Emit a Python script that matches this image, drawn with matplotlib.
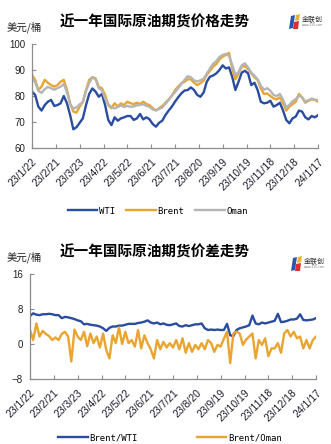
import matplotlib
matplotlib.use("Agg")
import matplotlib.pyplot as plt
import matplotlib.patches as mpatches
import numpy as np
import pandas as pd

plt.rcParams['font.family'] = ['Noto Sans CJK SC', 'DejaVu Sans']

# ---------------- data ----------------
dates = pd.date_range('2023-01-22', periods=91, freq='4D')
tick_dates = pd.date_range('2023-01-22', periods=13, freq='30D')
tick_labels = ['23/1/22', '23/2/21', '23/3/23', '23/4/22', '23/5/22', '23/6/21',
               '23/7/21', '23/8/20', '23/9/19', '23/10/19', '23/11/18', '23/12/18', '24/1/17']

wti = [81.7, 80.4, 75.9, 74.4, 76.5, 77.8, 78.5, 76.2, 76.5, 77.2,
       80.0, 77.2, 72.7, 67.2, 68.0, 69.7, 71.4, 76.5, 80.8, 82.9,
       81.7, 79.7, 80.8, 76.5, 70.8, 68.8, 71.8, 70.5, 71.4, 71.8,
       72.3, 72.3, 70.8, 71.4, 73.1, 71.0, 71.8, 71.0, 69.2, 68.2,
       69.7, 70.5, 72.7, 74.4, 75.9, 77.8, 79.5, 81.0, 82.1, 82.3,
       83.3, 82.3, 80.4, 79.7, 81.3, 85.5, 87.4, 87.9, 88.7, 90.0,
       91.8, 90.6, 91.0, 87.4, 82.3, 85.5, 89.0, 89.7, 88.7, 84.2,
       85.1, 82.3, 77.8, 77.2, 77.4, 78.2, 75.9, 76.5, 77.4, 74.4,
       70.8, 69.5, 71.4, 72.1, 74.4, 74.0, 71.8, 71.0, 72.3, 71.8,
       72.6]

brent = [88.1, 86.2, 82.3, 83.6, 86.2, 85.1, 84.2, 83.6, 84.2, 85.5,
         86.2, 82.3, 77.2, 74.0, 73.6, 75.9, 77.8, 82.3, 86.2, 87.2,
         86.8, 83.6, 82.9, 80.4, 76.5, 75.3, 77.2, 75.9, 77.2, 76.5,
         77.8, 77.2, 76.9, 77.4, 76.9, 77.8, 76.9, 76.5, 75.3, 74.4,
         75.3, 76.2, 77.4, 78.7, 80.0, 82.3, 83.6, 84.9, 85.5, 86.4,
         86.4, 85.1, 84.2, 84.9, 85.9, 88.1, 89.7, 91.3, 92.3, 94.1,
         95.1, 95.8, 96.6, 90.6, 86.4, 88.7, 91.3, 91.5, 90.3, 88.7,
         87.2, 86.2, 82.9, 80.8, 81.0, 80.0, 79.1, 78.7, 79.5, 77.2,
         74.4, 75.9, 76.9, 77.8, 80.8, 79.5, 77.4, 78.2, 78.7, 78.5,
         77.8]

oman = [87.0, 85.2, 82.0, 81.2, 82.6, 83.5, 83.0, 82.4, 83.0, 83.6,
        84.6, 81.5, 76.8, 75.2, 75.6, 76.8, 77.6, 82.0, 85.0, 87.2,
        86.4, 83.0, 82.2, 79.0, 76.8, 75.8, 75.2, 75.8, 76.4, 75.8,
        76.2, 75.8, 76.0, 76.4, 76.6, 76.8, 76.2, 75.8, 74.8, 74.6,
        75.0, 75.6, 77.0, 78.4, 80.2, 81.4, 83.0, 84.6, 86.2, 87.6,
        87.2, 86.0, 85.6, 86.0, 86.6, 88.6, 90.6, 92.4, 93.4, 95.0,
        95.8, 96.2, 95.4, 92.0, 88.2, 89.2, 91.8, 92.6, 91.0, 89.0,
        87.8, 86.4, 84.0, 82.4, 83.0, 82.0, 80.4, 80.0, 80.8, 78.6,
        75.6, 76.6, 78.0, 78.8, 80.2, 79.4, 77.8, 78.4, 79.0, 78.6,
        78.4]

brent_wti = [6.4, 7.0, 6.7, 6.6, 6.8, 6.8, 6.9, 6.8, 6.6, 6.6,
             5.9, 6.2, 6.1, 5.9, 5.7, 5.4, 5.2, 4.5, 4.6, 4.4,
             4.3, 4.2, 4.0, 3.6, 3.0, 3.7, 4.0, 4.0, 4.2, 4.2,
             4.4, 4.6, 4.6, 4.6, 4.8, 4.9, 5.1, 5.4, 4.9, 4.7,
             4.9, 4.5, 4.7, 4.4, 4.3, 4.5, 4.7, 4.1, 4.0, 4.3,
             4.1, 4.3, 4.5, 4.5, 4.7, 3.6, 3.2, 3.3, 3.2, 3.3,
             3.2, 3.2, 4.6, 2.0, 1.8, 3.2, 3.6, 3.8, 4.0, 4.3,
             6.5, 4.7, 4.5, 4.9, 4.7, 4.9, 5.1, 5.3, 6.9, 5.0,
             5.1, 5.3, 5.6, 5.6, 5.8, 6.8, 5.5, 5.4, 5.5, 5.6,
             5.9]

brent_oman = [3.2, 0.9, 4.7, 1.7, 3.0, 2.3, 1.8, 0.9, 1.5, 0.9,
              2.3, 2.8, 1.7, -4.0, 3.3, 1.7, 0.9, 2.8, -0.5, 2.4,
              0.2, 1.7, -0.8, 2.4, -1.4, -3.3, 2.0, 0.2, 3.8, 0.0,
              2.8, 0.2, 0.9, -0.6, 3.2, -1.0, 2.0, 0.2, -1.2, -3.3,
              0.9, -1.2, 0.5, -0.8, 0.2, -0.8, 0.9, -1.2, 1.3, -2.0,
              0.2, -1.8, -0.2, -1.2, 0.2, -1.2, 0.9, 0.2, -1.8, -0.2,
              -0.6, 1.2, 2.8, -4.4, 2.4, 2.8, 2.4, -0.2, 1.0, 1.7,
              2.4, -3.3, 0.9, -0.2, 1.3, -2.8, -1.0, -1.0, 0.2, -2.0,
              2.4, 3.2, 1.7, 2.8, 1.3, 1.7, -1.0, 0.9, -1.0, 0.9,
              1.7]

c_blue = '#2a4d9f'
c_orange = '#e9a530'
c_gray = '#b5b5b5'
c_spine = '#8c8c8c'

W, H = 331, 444
fig = plt.figure(figsize=(W / 100, H / 100), dpi=100)
fig.patch.set_facecolor('white')


def px_ax(l, r, t, b):
    return fig.add_axes([l / W, 1 - b / H, (r - l) / W, (b - t) / H])


def style_axes(ax, yticks, ylim):
    for s in ['top', 'right']:
        ax.spines[s].set_visible(False)
    for s in ['left', 'bottom']:
        ax.spines[s].set_color(c_spine)
        ax.spines[s].set_linewidth(0.9)
    ax.set_xlim(dates[0], dates[-1])
    ax.set_ylim(*ylim)
    ax.set_yticks(yticks)
    ax.set_yticklabels([str(v) for v in yticks], fontsize=7, family='Liberation Sans', color='#222222')
    ax.set_xticks(tick_dates)
    ax.set_xticklabels(tick_labels, rotation=45, ha='right', va='top', rotation_mode='anchor',
                       fontsize=7.5, family='Liberation Sans', color='#1c1c2c')
    ax.tick_params(axis='both', direction='in', length=3, width=0.8, color=c_spine)
    ax.tick_params(axis='x', pad=6)
    ax.tick_params(axis='y', pad=5)


def logo(x, y):
    # x, y : top-left pixel of logo
    def P(pts, color):
        fig.patches.append(mpatches.Polygon([((x + a) / W, 1 - (y + b) / H) for a, b in pts],
                                            closed=True, transform=fig.transFigure,
                                            facecolor=color, edgecolor='none'))
    P([(2, 3), (6, 2), (4, 15), (0, 16)], '#2b56b0')
    P([(5, 9), (10, 8), (9, 16), (4, 16)], '#d83030')
    P([(7, 2), (11, 1), (10, 7), (6, 8)], '#f0b030')
    fig.text((x + 13) / W, 1 - (y + 7) / H, '金联创', fontsize=5, color='#333333',
             ha='left', va='center')
    fig.text((x + 13) / W, 1 - (y + 12.5) / H, 'www.315.com', fontsize=2.2, color='#777777',
             ha='left', va='center', family='DejaVu Sans')


# ---------------- top chart ----------------
ax1 = px_ax(32, 318, 44, 148)
ax1.plot(dates, wti, color=c_blue, lw=1.7, label='WTI', solid_joinstyle='round')
ax1.plot(dates, brent, color=c_orange, lw=1.7, label='Brent', solid_joinstyle='round')
ax1.plot(dates, oman, color=c_gray, lw=1.7, label='Oman', solid_joinstyle='round')
style_axes(ax1, [60, 70, 80, 90, 100], (60, 100))

fig.text(155 / W, 1 - 22 / H, '近一年国际原油期货价格走势', fontsize=10.5, fontweight='bold',
         ha='center', va='center', color='black')
fig.text(7 / W, 1 - 27 / H, '美元/桶', fontsize=7.5, ha='left', va='center', color='#222222')
logo(289, 13)

leg1 = fig.legend(handles=ax1.lines, labels=['WTI', 'Brent', 'Oman'], loc='center',
                  bbox_to_anchor=(158 / W, 1 - 211 / H), ncol=3, frameon=False,
                  prop={'family': 'DejaVu Sans Mono', 'size': 6.5},
                  handlelength=3.3, handletextpad=0.2, columnspacing=1.2)

# ---------------- bottom chart ----------------
ax2 = px_ax(30, 316, 274, 379)
ax2.plot(dates, brent_wti, color=c_blue, lw=1.7, label='Brent/WTI', solid_joinstyle='round')
ax2.plot(dates, brent_oman, color=c_orange, lw=1.7, label='Brent/Oman', solid_joinstyle='round')
style_axes(ax2, [-8, 0, 8, 16], (-8, 16))
ax2.set_yticklabels(['\u22128', '0', '8', '16'], fontsize=7, family='Liberation Sans', color='#222222')

fig.text(155 / W, 1 - 252 / H, '近一年国际原油期货价差走势', fontsize=10.5, fontweight='bold',
         ha='center', va='center', color='black')
fig.text(7 / W, 1 - 257 / H, '美元/桶', fontsize=7.5, ha='left', va='center', color='#222222')
logo(291, 255)

leg2 = fig.legend(handles=ax2.lines, labels=['Brent/WTI', 'Brent/Oman'], loc='center',
                  bbox_to_anchor=(170 / W, 1 - 438 / H), ncol=2, frameon=False,
                  prop={'family': 'DejaVu Sans Mono', 'size': 6.5},
                  handlelength=3.3, handletextpad=0.2, columnspacing=6.5)

fig.savefig('out.png', dpi=100, facecolor='white')
